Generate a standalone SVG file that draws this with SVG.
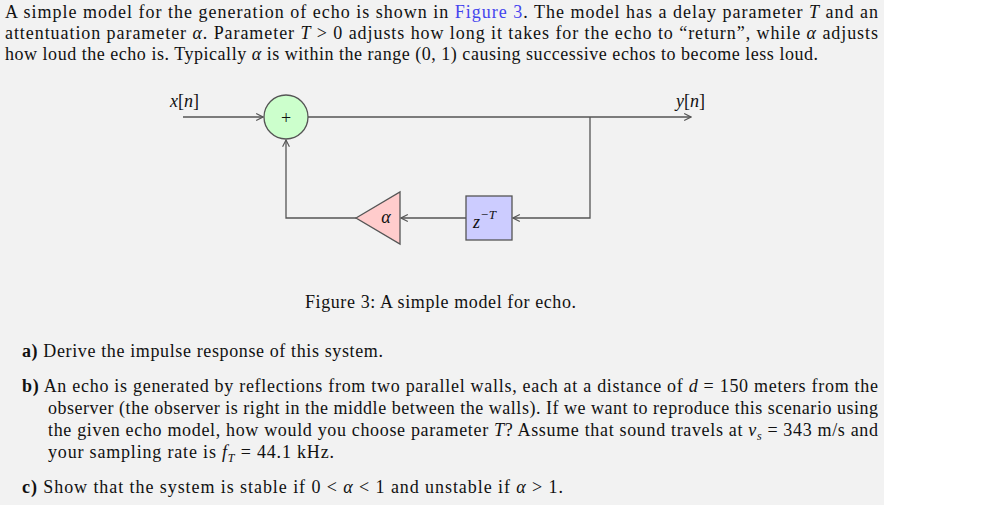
<svg xmlns="http://www.w3.org/2000/svg" width="1000" height="505" viewBox="0 0 1000 505">
<defs>
<style>
text{font-family:"Liberation Serif","DejaVu Serif",serif;font-size:18px;fill:#111}
.m{font-style:italic}
.b{font-weight:bold}
.ln{fill:none;stroke:#555;stroke-width:1.3}
</style>
<marker id="ar" viewBox="0 0 8 8" refX="7" refY="4" markerWidth="7" markerHeight="7" orient="auto"><path d="M1,1 L7,4 L1,7" fill="none" stroke="#555" stroke-width="1"/></marker>
</defs>
<rect width="1000" height="505" fill="#fff"/>
<rect width="884" height="505" fill="#f2f2f2"/>
<text x="5" y="18" textLength="873" lengthAdjust="spacing">A simple model for the generation of echo is shown in <tspan fill="#4444ee">Figure 3</tspan>. The model has a delay parameter <tspan class="m">T</tspan> and an</text>
<text x="5" y="39" textLength="873" lengthAdjust="spacing">attentuation parameter <tspan class="m">α</tspan>. Parameter <tspan class="m">T</tspan> &gt; 0 adjusts how long it takes for the echo to “return”, while <tspan class="m">α</tspan> adjusts</text>
<text x="5" y="60" textLength="813" lengthAdjust="spacing">how loud the echo is. Typically <tspan class="m">α</tspan> is within the range (0, 1) causing successive echos to become less loud.</text>
<g id="connectors">
<path class="ln" d="M183,117 H263" marker-end="url(#ar)"/>
<path class="ln" d="M308,117 H691" marker-end="url(#ar)"/>
<path class="ln" d="M590,117 V218 H513" marker-end="url(#ar)"/>
<path class="ln" d="M466,218 H401" marker-end="url(#ar)"/>
<path class="ln" d="M356,218 H286 V140" marker-end="url(#ar)"/>
</g>
<g id="sum"><circle cx="286" cy="117" r="22" fill="#ccffcc" stroke="#555" stroke-width="1.3"/><text x="286" y="124" text-anchor="middle" font-size="22">+</text></g>
<g id="delay"><rect x="466" y="196" width="46" height="44" fill="#ccccff" stroke="#555" stroke-width="1.3"/><text x="473" y="228" class="m" font-size="17">z<tspan font-size="13" dy="-9">−T</tspan></text></g>
<g id="gain"><path d="M356,218 L400,192 L400,244 Z" fill="#ffcccc" stroke="#555" stroke-width="1.3"/><text x="386" y="223" class="m" text-anchor="middle">α</text></g>
<g id="xin"><text x="170" y="107" class="m">x<tspan font-style="normal">[</tspan>n<tspan font-style="normal">]</tspan></text></g>
<g id="yout"><text x="676" y="107" class="m">y<tspan font-style="normal">[</tspan>n<tspan font-style="normal">]</tspan></text></g>
<text x="305" y="308" textLength="271" lengthAdjust="spacing">Figure 3: A simple model for echo.</text>
<text x="22" y="357" textLength="361" lengthAdjust="spacing"><tspan class="b">a)</tspan>  Derive the impulse response of this system.</text>
<text x="22" y="392" textLength="856" lengthAdjust="spacing"><tspan class="b">b)</tspan>  An echo is generated by reflections from two parallel walls, each at a distance of <tspan class="m">d</tspan> = 150 meters from the</text>
<text x="48" y="414" textLength="830" lengthAdjust="spacing">observer (the observer is right in the middle between the walls). If we want to reproduce this scenario using</text>
<text x="48" y="436" textLength="830" lengthAdjust="spacing">the given echo model, how would you choose parameter <tspan class="m">T</tspan>? Assume that sound travels at <tspan class="m">v<tspan font-size="12" dy="4">s</tspan></tspan><tspan dy="-4"> = 343 m/s and</tspan></text>
<text x="48" y="458" textLength="286" lengthAdjust="spacing">your sampling rate is <tspan class="m">f<tspan font-size="12" dy="4">T</tspan></tspan><tspan dy="-4"> = 44.1 kHz.</tspan></text>
<text x="22" y="493" textLength="541" lengthAdjust="spacing"><tspan class="b">c)</tspan>  Show that the system is stable if 0 &lt; <tspan class="m">α</tspan> &lt; 1 and unstable if <tspan class="m">α</tspan> &gt; 1.</text>
</svg>
